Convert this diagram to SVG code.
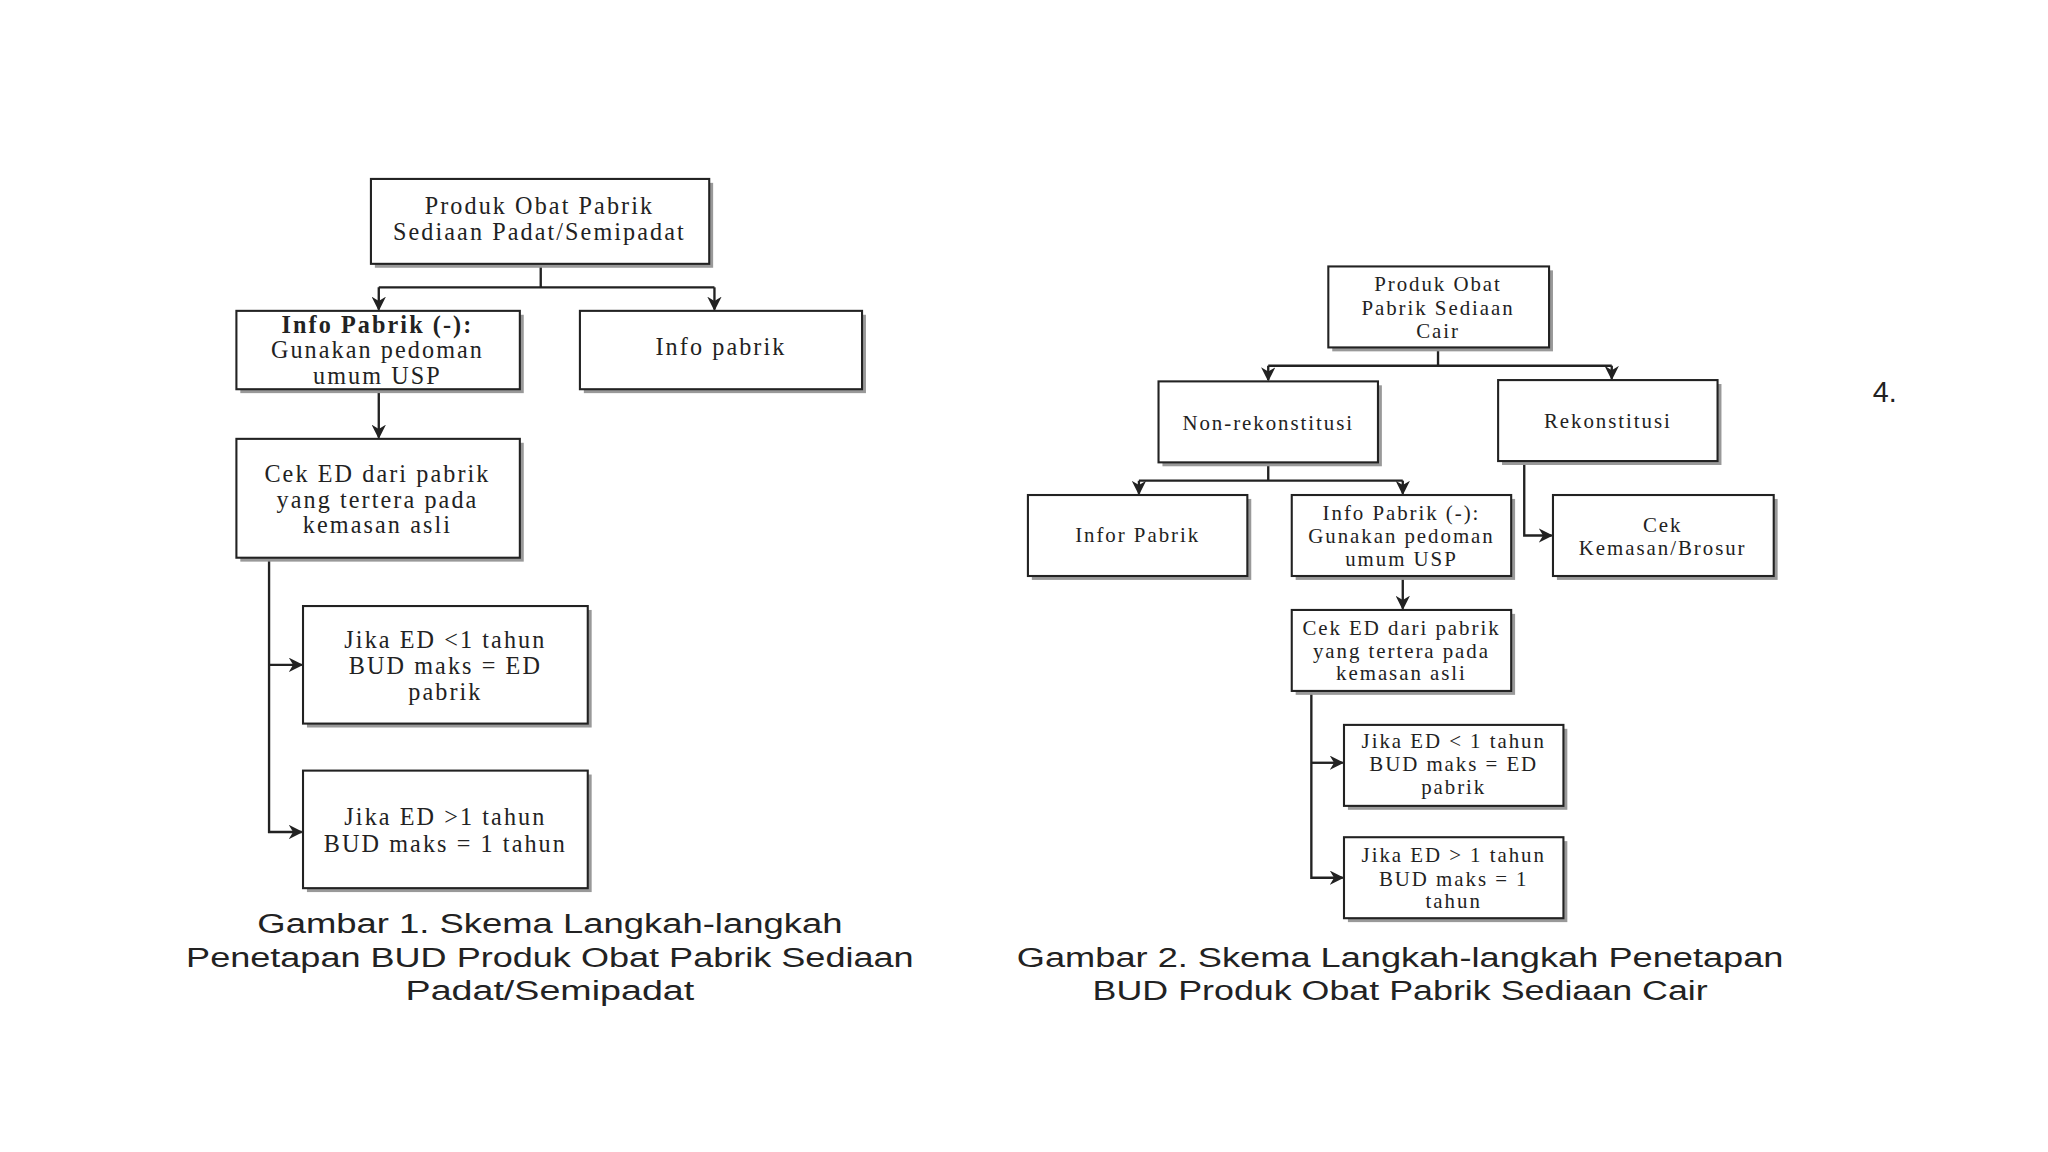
<svg xmlns="http://www.w3.org/2000/svg" width="2048" height="1152" viewBox="0 0 2048 1152">
<defs>
<style>
.b{fill:#fff;stroke:#222;stroke-width:1.6}
.s{fill:#999}
.t{font-family:"Liberation Serif",serif;fill:#222;text-anchor:middle}
.l{font-size:18.5px;letter-spacing:1.6px}.r{font-size:16px;letter-spacing:1.5px}
.c{font-family:"Liberation Sans",sans-serif;font-size:21px;fill:#222;text-anchor:middle}
.k{fill:none;stroke:#222;stroke-width:1.8}
</style>
<marker id="a" viewBox="0 0 10 10" refX="9" refY="5" markerWidth="11" markerHeight="11" orient="auto" markerUnits="userSpaceOnUse"><path d="M0,0L10,5L0,10L3,5z" fill="#222"/></marker>
</defs>
<rect width="2048" height="1152" fill="#fff"/>
<g transform="scale(1.30612)">
<g id="connectors" class="k">
<path d="M414,202V220M290,220H547M290,220V237" marker-end="url(#a)"/>
<path d="M547,220V237" marker-end="url(#a)"/>
<path d="M290,298V335" marker-end="url(#a)"/>
<path d="M206,427V637H231" marker-end="url(#a)"/>
<path d="M206,509H231" marker-end="url(#a)"/>
<path d="M1101,266V280M971,280H1234M971,280V291" marker-end="url(#a)"/>
<path d="M1234,280V290" marker-end="url(#a)"/>
<path d="M971,354V368M872,368H1074M872,368V378" marker-end="url(#a)"/>
<path d="M1074,368V378" marker-end="url(#a)"/>
<path d="M1167,353V410H1188" marker-end="url(#a)"/>
<path d="M1074,441V466" marker-end="url(#a)"/>
<path d="M1004,529V672H1028" marker-end="url(#a)"/>
<path d="M1004,584H1028" marker-end="url(#a)"/>
</g>
<g id="n1"><rect class="s" x="287" y="140" width="259" height="65"/><rect class="b" x="284" y="137" width="259" height="65"/><text class="t l" x="413" y="164">Produk Obat Pabrik</text><text class="t l" x="413" y="184">Sediaan Padat/Semipadat</text></g>
<g id="n2"><rect class="s" x="184" y="241" width="217" height="60"/><rect class="b" x="181" y="238" width="217" height="60"/><text class="t l" x="289" y="255" font-weight="bold">Info Pabrik (-):</text><text class="t l" x="289" y="274">Gunakan pedoman</text><text class="t l" x="289" y="294">umum USP</text></g>
<g id="n3"><rect class="s" x="447" y="241" width="216" height="60"/><rect class="b" x="444" y="238" width="216" height="60"/><text class="t l" x="552" y="272">Info pabrik</text></g>
<g id="n4"><rect class="s" x="184" y="339" width="217" height="91"/><rect class="b" x="181" y="336" width="217" height="91"/><text class="t l" x="289" y="369">Cek ED dari pabrik</text><text class="t l" x="289" y="389">yang tertera pada</text><text class="t l" x="289" y="408">kemasan asli</text></g>
<g id="n5"><rect class="s" x="235" y="467" width="218" height="90"/><rect class="b" x="232" y="464" width="218" height="90"/><text class="t l" x="341" y="496">Jika ED &lt;1 tahun</text><text class="t l" x="341" y="516">BUD maks = ED</text><text class="t l" x="341" y="536">pabrik</text></g>
<g id="n6"><rect class="s" x="235" y="593" width="218" height="90"/><rect class="b" x="232" y="590" width="218" height="90"/><text class="t l" x="341" y="632">Jika ED &gt;1 tahun</text><text class="t l" x="341" y="652">BUD maks = 1 tahun</text></g>
<g id="cap1"><text class="c" x="421" y="714" textLength="448" lengthAdjust="spacingAndGlyphs">Gambar 1. Skema Langkah-langkah</text><text class="c" x="421" y="740" textLength="557" lengthAdjust="spacingAndGlyphs">Penetapan BUD Produk Obat Pabrik Sediaan</text><text class="c" x="421" y="766" textLength="221" lengthAdjust="spacingAndGlyphs">Padat/Semipadat</text></g>
<g id="m1"><rect class="s" x="1020" y="207" width="169" height="62"/><rect class="b" x="1017" y="204" width="169" height="62"/><text class="t r" x="1101" y="223">Produk Obat</text><text class="t r" x="1101" y="241">Pabrik Sediaan</text><text class="t r" x="1101" y="259">Cair</text></g>
<g id="m2"><rect class="s" x="890" y="295" width="168" height="62"/><rect class="b" x="887" y="292" width="168" height="62"/><text class="t r" x="971" y="329">Non-rekonstitusi</text></g>
<g id="m3"><rect class="s" x="1150" y="294" width="168" height="62"/><rect class="b" x="1147" y="291" width="168" height="62"/><text class="t r" x="1231" y="328">Rekonstitusi</text></g>
<g id="m4"><rect class="s" x="790" y="382" width="168" height="62"/><rect class="b" x="787" y="379" width="168" height="62"/><text class="t r" x="871" y="415">Infor Pabrik</text></g>
<g id="m5"><rect class="s" x="992" y="382" width="168" height="62"/><rect class="b" x="989" y="379" width="168" height="62"/><text class="t r" x="1073" y="398">Info Pabrik (-):</text><text class="t r" x="1073" y="416">Gunakan pedoman</text><text class="t r" x="1073" y="433">umum USP</text></g>
<g id="m6"><rect class="s" x="1192" y="382" width="169" height="62"/><rect class="b" x="1189" y="379" width="169" height="62"/><text class="t r" x="1273" y="407">Cek</text><text class="t r" x="1273" y="425">Kemasan/Brosur</text></g>
<g id="m7"><rect class="s" x="992" y="470" width="168" height="62"/><rect class="b" x="989" y="467" width="168" height="62"/><text class="t r" x="1073" y="486">Cek ED dari pabrik</text><text class="t r" x="1073" y="504">yang tertera pada</text><text class="t r" x="1073" y="521">kemasan asli</text></g>
<g id="m8"><rect class="s" x="1032" y="558" width="168" height="62"/><rect class="b" x="1029" y="555" width="168" height="62"/><text class="t r" x="1113" y="573">Jika ED &lt; 1 tahun</text><text class="t r" x="1113" y="590">BUD maks = ED</text><text class="t r" x="1113" y="608">pabrik</text></g>
<g id="m9"><rect class="s" x="1032" y="644" width="168" height="62"/><rect class="b" x="1029" y="641" width="168" height="62"/><text class="t r" x="1113" y="660">Jika ED &gt; 1 tahun</text><text class="t r" x="1113" y="678">BUD maks = 1</text><text class="t r" x="1113" y="695">tahun</text></g>
<g id="cap2"><text class="c" x="1072" y="740" textLength="587" lengthAdjust="spacingAndGlyphs">Gambar 2. Skema Langkah-langkah Penetapan</text><text class="c" x="1072" y="766" textLength="471" lengthAdjust="spacingAndGlyphs">BUD Produk Obat Pabrik Sediaan Cair</text></g>
<text class="c" x="1443" y="308" style="font-size:22px">4.</text>
</g>
</svg>
